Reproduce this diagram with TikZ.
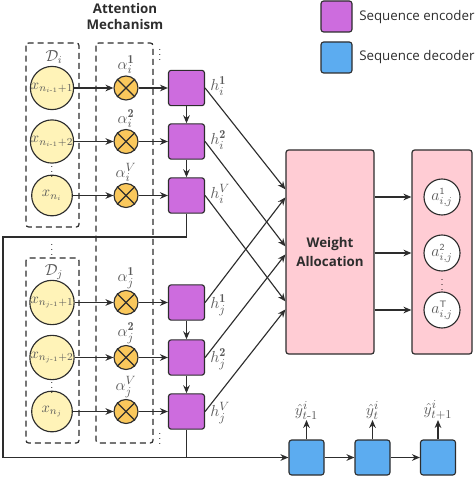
\documentclass[tikz,border=0pt]{standalone}
\usepackage{fontspec}
\usepackage{amsmath}
\newfontfamily\osans{Open Sans}
\usetikzlibrary{arrows.meta,calc}
\definecolor{encp}{RGB}{205,108,222}
\definecolor{decb}{RGB}{92,172,240}
\definecolor{pinkf}{RGB}{255,204,212}
\definecolor{yelf}{RGB}{255,243,184}
\definecolor{orf}{RGB}{250,200,92}
\definecolor{linec}{RGB}{45,45,45}
\definecolor{labc}{RGB}{90,90,90}
\begin{document}
\begin{tikzpicture}[x=0.75pt,y=-0.75pt,
  line/.style={draw=linec,line width=0.85pt},
  arr/.style={line,-{Stealth[length=6pt,width=5pt]}},
  enc/.style={draw=linec,line width=0.85pt,fill=encp,rounded corners=2pt,minimum width=27pt,minimum height=26.5pt,inner sep=0pt},
  dec/.style={enc,fill=decb},
  xc/.style={circle,draw=linec,line width=0.85pt,fill=yelf,minimum size=30.5pt,inner sep=0pt,font=\fontsize{11}{12}\selectfont,text=labc},
  oc/.style={circle,draw=linec,line width=0.85pt,fill=orf,minimum size=18pt,inner sep=0pt},
  dbox/.style={draw=linec,line width=0.9pt,dash pattern=on 4.5pt off 3pt,rounded corners=2pt},
  lab/.style={text=labc,font=\fontsize{13}{14}\selectfont,inner sep=0pt},
  ac/.style={circle,draw=linec,line width=0.85pt,fill=white,minimum size=27pt,inner sep=0pt,font=\fontsize{12}{13}\selectfont,text=labc},
  vd/.style={font=\fontsize{7}{7}\selectfont,inner sep=0pt},
  bigbox/.style={draw=linec,line width=0.9pt,fill=pinkf,rounded corners=2pt,minimum height=153pt,inner sep=0pt}
]
\useasboundingbox (0,0) rectangle (474,477);

% title
\node[font=\osans\bfseries\fontsize{10}{12}\selectfont,align=center,text=linec] (title) at (125,17) {Attention\\Mechanism};

% legend
\node[enc,minimum width=23.25pt,minimum height=23.25pt] (lp) at (336.5,16.5) {};
\node[dec,minimum width=23.25pt,minimum height=23.25pt] (lb) at (336.5,57.5) {};
\node[anchor=west,font=\osans\fontsize{10}{12}\selectfont,text=linec,inner sep=0pt] (lpt) at (359,17) {Sequence encoder};
\node[anchor=west,font=\osans\fontsize{10}{12}\selectfont,text=linec,inner sep=0pt] (lbt) at (359,57) {Sequence decoder};

% dashed boxes
\draw[dbox] (26,43) rectangle (79,227);
\draw[dbox] (26,258) rectangle (79,443);
\draw[dbox] (96,43) rectangle (153,443);
\node[lab,font=\fontsize{12}{13}\selectfont] (Di) at (54,57) {$\mathcal{D}_i$};
\node[lab,font=\fontsize{12}{13}\selectfont] (Dj) at (54,272) {$\mathcal{D}_j$};

% input circles
\node[xc] (xi1) at (52,88) {$x_{n_{i\text{-}1}+1}$};
\node[xc] (xi2) at (52,141.5) {$x_{n_{i\text{-}1}+2}$};
\node[xc] (xi3) at (52,195.5) {$x_{n_i}$};
\node[xc] (xj1) at (52,302.5) {$x_{n_{j\text{-}1}+1}$};
\node[xc] (xj2) at (52,357.5) {$x_{n_{j\text{-}1}+2}$};
\node[xc] (xj3) at (52,411.5) {$x_{n_j}$};

% otimes
\foreach \n/\y in {oi1/88,oi2/141.5,oi3/195.5,oj1/302.5,oj2/357.5,oj3/411.5}{
  \node[oc] (\n) at (126,\y) {};
  \draw[line] (\n.45) -- (\n.225) (\n.135) -- (\n.-45);
}
\node[lab,anchor=south] (ai1) at (126,74) {$\alpha_i^{\mathbf{1}}$};
\node[lab,anchor=south] (ai2) at (126,128) {$\alpha_i^{\mathbf{2}}$};
\node[lab,anchor=south] (ai3) at (126,182) {$\alpha_i^{V}$};
\node[lab,anchor=south] (aj1) at (126,289) {$\alpha_j^{\mathbf{1}}$};
\node[lab,anchor=south] (aj2) at (126,344) {$\alpha_j^{\mathbf{2}}$};
\node[lab,anchor=south] (aj3) at (126,398) {$\alpha_j^{V}$};

% encoders
\node[enc] (ei1) at (186.5,88) {};
\node[enc] (ei2) at (186.5,141.5) {};
\node[enc] (ei3) at (186.5,195.5) {};
\node[enc] (ej1) at (186.5,302.5) {};
\node[enc] (ej2) at (186.5,357.5) {};
\node[enc] (ej3) at (186.5,411.5) {};
\node[lab,anchor=west] (hi1) at (210,86) {$h_i^{\mathbf{1}}$};
\node[lab,anchor=west] (hi2) at (210,140) {$h_i^{\mathbf{2}}$};
\node[lab,anchor=west] (hi3) at (210,194) {$h_i^{V}$};
\node[lab,anchor=west] (hj1) at (210,305) {$h_j^{\mathbf{1}}$};
\node[lab,anchor=west] (hj2) at (210,359) {$h_j^{\mathbf{2}}$};
\node[lab,anchor=west] (hj3) at (210,413) {$h_j^{V}$};

% dots
\node[vd] (d1) at (160,51) {$\vdots$};
\node[vd] (d2) at (160,435) {$\vdots$};
\node[vd] (d3) at (52,168) {$\vdots$};
\node[vd] (d4) at (52,246) {$\vdots$};
\node[vd] (d5) at (52,384) {$\vdots$};

% horizontal arrows
\foreach \s in {i1,i2,i3,j1,j2,j3}{
  \draw[arr] (x\s) -- (o\s);
  \draw[arr] (o\s) -- (e\s);
}
\draw[arr] (ei1) -- (ei2);
\draw[arr] (ei2) -- (ei3);
\draw[arr] (ej1) -- (ej2);
\draw[arr] (ej2) -- (ej3);

% weight allocation and output
\node[bigbox,minimum width=66pt,font=\osans\bfseries\fontsize{10}{14}\selectfont,align=center,text=linec] (WA) at (330,252) {Weight\\Allocation};
\node[bigbox,minimum width=45pt] (RB) at (442,252) {};
\node[ac] (a1) at (442,197) {$a^{\textsf{\scriptsize 1}}_{i,j}$};
\node[ac] (a2) at (442,253) {$a^{\textsf{\scriptsize 2}}_{i,j}$};
\node[ac] (a3) at (442,310) {$a^{\textsf{\scriptsize T}}_{i,j}$};
\node[vd] (d6) at (442,281) {$\vdots$};
\foreach \a in {a1,a2,a3}{
  \draw[arr] (WA.east |- \a) -- (RB.west |- \a);
}

% crossing lines
\draw[arr] (ei1.east) -- ($(WA.north west)+(0,40)$);
\draw[arr] (ej1.east) -- ($(WA.north west)+(0,48)$);
\draw[arr] (ei2.east) -- ($(WA.north west)+(0,97)$);
\draw[arr] (ej2.east) -- ($(WA.north west)+(0,105)$);
\draw[arr] (ei3.east) -- ($(WA.north west)+(0,152)$);
\draw[arr] (ej3.east) -- ($(WA.north west)+(0,160)$);

% decoders
\node[dec,minimum width=26.25pt,minimum height=26.25pt] (y1) at (306.5,457.5) {};
\node[dec,minimum width=26.25pt,minimum height=26.25pt] (y2) at (372.5,457.5) {};
\node[dec,minimum width=26.25pt,minimum height=26.25pt] (y3) at (438,457.5) {};
\coordinate (c1) at (3,237);
\draw[arr] (ei3.south) |- (c1) |- (y1.west);
\draw[line] (ej3.south) -- (ej3.south |- y1.west);
\draw[arr] (y1) -- (y2);
\draw[arr] (y2) -- (y3);
\node[lab,anchor=south] (t1) at (306.5,420) {$\hat{y}^{i}_{t\text{-}1}$};
\node[lab,anchor=south] (t2) at (372.5,420) {$\hat{y}^{i}_{t}$};
\node[lab,anchor=south] (t3) at (438,420) {$\hat{y}^{i}_{t+1}$};
\draw[arr] (y1.north) -- (t1.south);
\draw[arr] (y2.north) -- (t2.south);
\draw[arr] (y3.north) -- (t3.south);
\end{tikzpicture}
\end{document}
